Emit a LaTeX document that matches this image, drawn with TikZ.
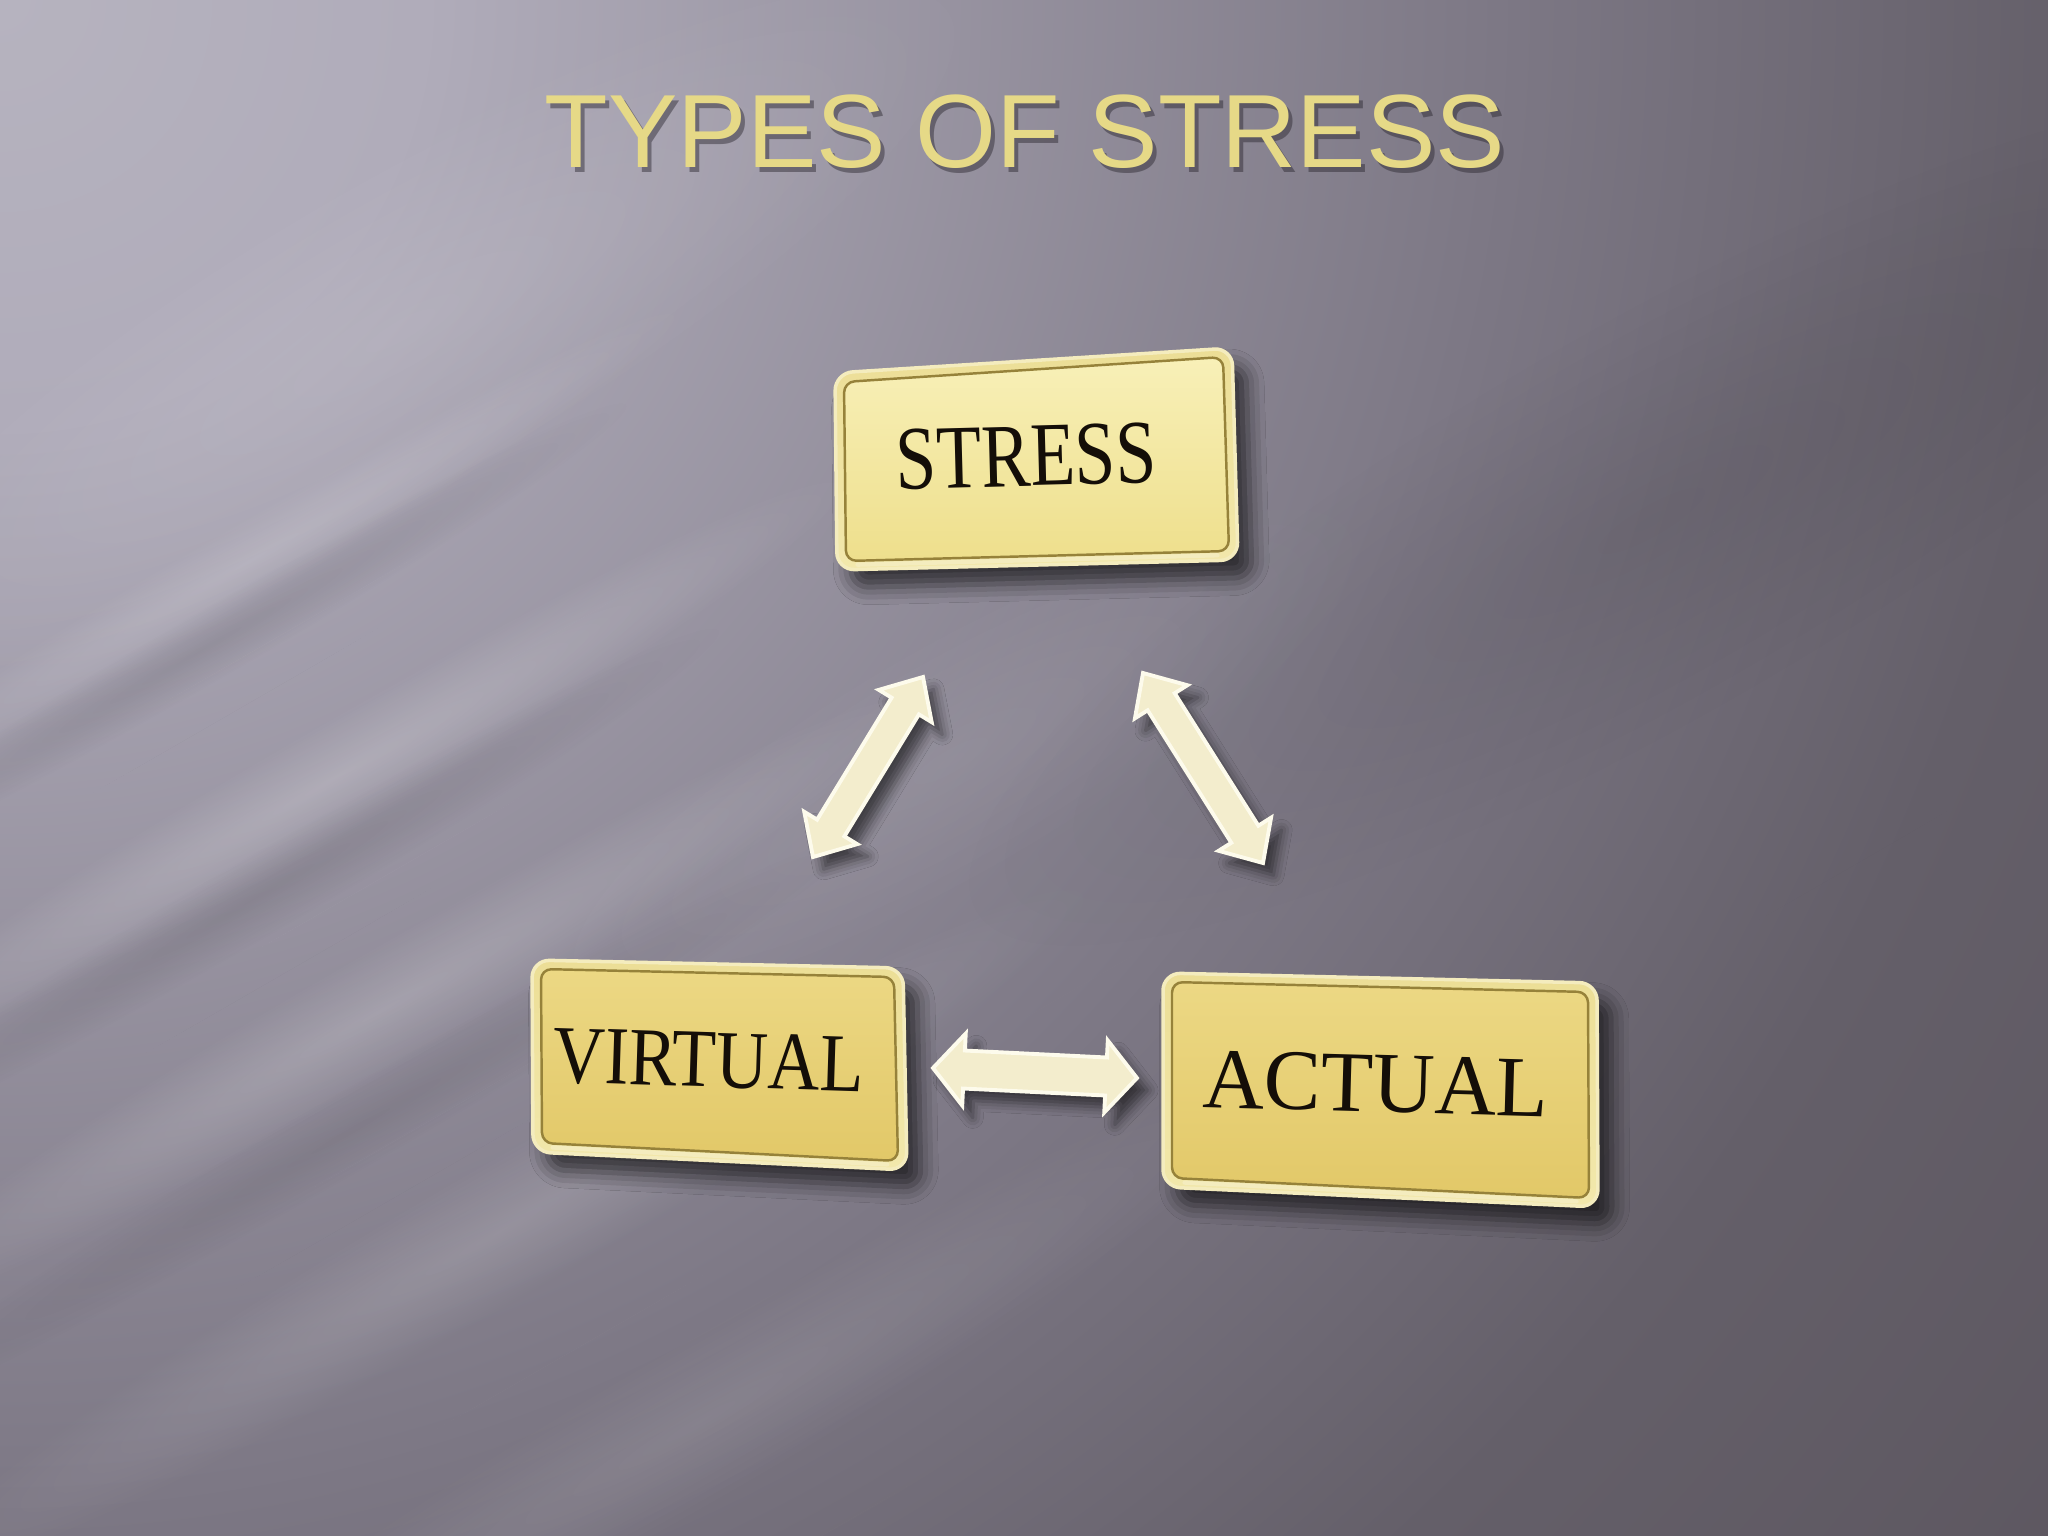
\documentclass[tikz,border=0pt]{standalone}
\usepackage{fontspec}
\setmainfont{Liberation Serif}
\newfontfamily\titlefont{Liberation Sans}
\usetikzlibrary{calc,fadings,shadows.blur}

\definecolor{bg0}{RGB}{182,179,191}
\definecolor{bg1}{RGB}{176,172,186}
\definecolor{bg2}{RGB}{124,119,132}
\definecolor{bg3}{RGB}{100,95,105}
\definecolor{bg4}{RGB}{92,86,95}
\definecolor{titlegold}{RGB}{230,217,135}
\definecolor{titleshadow}{RGB}{40,36,44}
\definecolor{rimtop}{RGB}{236,222,150}
\definecolor{rimmid}{RGB}{190,168,80}
\definecolor{rimbot}{RGB}{242,232,172}
\definecolor{rimedge}{RGB}{244,236,190}
\definecolor{rimdark}{RGB}{150,130,58}
\definecolor{faceAt}{RGB}{248,240,184}
\definecolor{faceAb}{RGB}{238,223,140}
\definecolor{faceBt}{RGB}{236,216,132}
\definecolor{faceBb}{RGB}{226,200,104}
\definecolor{arrowfill}{RGB}{243,237,205}
\definecolor{arrowedge}{RGB}{253,251,236}
\definecolor{inkc}{RGB}{20,14,8}

\pgfdeclareradialshading{bgshade}{\pgfpointorigin}{%
  color(0bp)=(bg0); color(120bp)=(bg1); color(430bp)=(bg2);
  color(590bp)=(bg3); color(760bp)=(bg4)}

\tikzfading[name=blob, inner color=transparent!0, outer color=transparent!100]

% soft diagonal streak: centre (px), half length, half width, opacity, colour
\newcommand\streak[6]{%
  \fill[#6, opacity=#5, path fading=blob, fit fading=false,
    fading transform={shift={({#1*0.28453pt},{-#2*0.28453pt})}, rotate=30,
      xscale={#3/88.2}, yscale={#4/88.2}}]
    (-2048,-1536) rectangle (2048,1536);}

% block double arrow between two named coordinates
\newcommand\blockarr[5]{%
  \coordinate (#1-h1) at ($(#1)!#3!(#2)$);
  \coordinate (#1-h2) at ($(#2)!#3!(#1)$);
  \path[arrowsty] (#1)
    -- ($(#1-h1)!#4!90:(#2)$) -- ($(#1-h1)!#5!90:(#2)$)
    -- ($(#1-h2)!#5!90:(#2)$) -- ($(#1-h2)!#4!90:(#2)$)
    -- (#2)
    -- ($(#1-h2)!#4!-90:(#2)$) -- ($(#1-h2)!#5!-90:(#2)$)
    -- ($(#1-h1)!#5!-90:(#2)$) -- ($(#1-h1)!#4!-90:(#2)$)
    -- cycle;}

% bevelled gold box from corner coordinates #11..#18
\newcommand\goldbox[3]{%
  \path[fill=rimmid, rounded corners=5pt,
    blur shadow={shadow xshift=4pt, shadow yshift=-5pt,
      shadow blur radius=5pt, shadow opacity=65}]
    (#11)--(#12)--(#13)--(#14)--cycle;
  \shade[rounded corners=5pt, top color=rimtop, middle color=rimmid,
    bottom color=rimbot, draw=rimedge, line width=1pt]
    (#11)--(#12)--(#13)--(#14)--cycle;
  \shade[rounded corners=3pt, top color=#2, bottom color=#3,
    draw=rimdark, line width=0.7pt]
    (#15)--(#16)--(#17)--(#18)--cycle;
  \draw[rimedge, line width=1.2pt, line cap=round]
    ($(#18)!0.03!(#17)+(0,4)$) -- ($(#17)!0.03!(#18)+(0,4)$);}

\tikzset{
  lbl/.style={anchor=base, inner sep=0pt, text=inkc},
  arrowsty/.style={fill=arrowfill, draw=arrowedge, line width=1.1pt,
    line join=miter,
    blur shadow={shadow xshift=3pt, shadow yshift=-3.5pt,
      shadow blur radius=3pt, shadow opacity=55}},
  ttl/.style={anchor=base, inner sep=0pt}
}

\begin{document}
\begin{tikzpicture}[x=0.01cm, y=-0.01cm]
\path[use as bounding box] (0,0) rectangle (2048,1536);

% ---------- background ----------
\begin{scope}
  \clip (0,0) rectangle (2048,1536);
  \node[inner sep=0pt, outer sep=0pt] (bg) at (0,0) {\pgfuseshading{bgshade}};
  \streak{400}{330}{700}{170}{0.10}{white}
  \streak{250}{560}{520}{40}{0.16}{white}
  \streak{200}{650}{500}{35}{0.10}{black}
  \streak{330}{780}{620}{55}{0.20}{white}
  \streak{250}{900}{550}{40}{0.10}{black}
  \streak{380}{1010}{650}{60}{0.18}{white}
  \streak{350}{1130}{600}{40}{0.08}{black}
  \streak{500}{1230}{700}{70}{0.14}{white}
  \streak{700}{1420}{700}{80}{0.10}{white}
  \streak{950}{760}{500}{130}{0.07}{white}
  \streak{1650}{520}{800}{200}{0.08}{black}
\end{scope}

% ---------- title ----------
\node[ttl, text=titleshadow, opacity=0.45] (tsh) at (1029,172)
  {\titlefont\fontsize{29.6}{34}\selectfont TYPES OF STRESS};
\node[ttl, text=titlegold] (title) at (1025,167)
  {\titlefont\fontsize{29.6}{34}\selectfont TYPES OF STRESS};

% ---------- boxes ----------
\coordinate (s1) at (835,373);  \coordinate (s2) at (1232,348);
\coordinate (s3) at (1238,560); \coordinate (s4) at (837,570);
\coordinate (s5) at (844,382);  \coordinate (s6) at (1223,357);
\coordinate (s7) at (1229,551); \coordinate (s8) at (846,561);
\goldbox{s}{faceAt}{faceAb}

\coordinate (v1) at (532,960);  \coordinate (v2) at (903,968);
\coordinate (v3) at (907,1170); \coordinate (v4) at (533,1152);
\coordinate (v5) at (541,969);  \coordinate (v6) at (894,977);
\coordinate (v7) at (898,1161); \coordinate (v8) at (542,1143);
\goldbox{v}{faceBt}{faceBb}

\coordinate (a1) at (1163,973);  \coordinate (a2) at (1597,983);
\coordinate (a3) at (1598,1207); \coordinate (a4) at (1163,1187);
\coordinate (a5) at (1172,982);  \coordinate (a6) at (1588,992);
\coordinate (a7) at (1589,1198); \coordinate (a8) at (1172,1178);
\goldbox{a}{faceBt}{faceBb}

\node[lbl, rotate=1.5] (stress) at (1027,486)
  {\fontsize{25.8}{30}\selectfont\scalebox{0.81}[1]{STRESS}};
\node[lbl, rotate=-1.8] (virtual) at (708,1087)
  {\fontsize{23.5}{28}\selectfont\scalebox{0.87}[1]{VIRTUAL}};
\node[lbl, rotate=-1.6] (actual) at (1375,1112)
  {\fontsize{24.5}{29}\selectfont\scalebox{0.99}[1]{ACTUAL}};

% ---------- arrows ----------
\coordinate (la1) at (923,677);  \coordinate (la2) at (813,857);
\coordinate (ra1) at (1143,673); \coordinate (ra2) at (1263,863);
\coordinate (ha1) at (933,1068); \coordinate (ha2) at (1137,1078);
\blockarr{la1}{la2}{0.34cm}{0.31cm}{0.16cm}
\blockarr{ra1}{ra2}{0.34cm}{0.31cm}{0.16cm}
\blockarr{ha1}{ha2}{0.31cm}{0.36cm}{0.19cm}
\end{tikzpicture}
\end{document}
